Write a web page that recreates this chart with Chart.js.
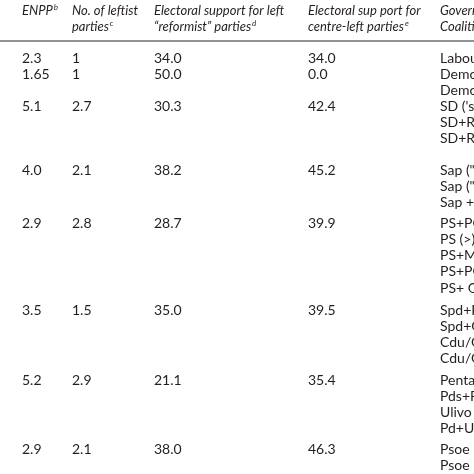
<!DOCTYPE html>
<html>
<head>
<meta charset="utf-8">
<script src="https://cdn.jsdelivr.net/npm/chart.js@4"></script>
<style>
  html, body { margin: 0; padding: 0; background: #fff; overflow: hidden; }
</style>
</head>
<body>
<canvas id="tbl" width="474" height="474"></canvas>
<script>
// Table values
const enpp = ['2.3', '1.65', '5.1', '4.0', '2.9', '3.5', '5.2', '2.9'];
const leftistParties = ['1', '1', '2.7', '2.1', '2.8', '1.5', '2.9', '2.1'];
const reformistSupport = ['34.0', '50.0', '30.3', '38.2', '28.7', '35.0', '21.1', '38.0'];
const centreLeftSupport = ['34.0', '0.0', '42.4', '45.2', '39.9', '39.5', '35.4', '46.3'];
const governments = [
  ['Labour'],
  ['Democrats', 'Democrats'],
  ["SD ('single')", 'SD+RV', 'SD+RV'],
  ['Sap ("single")', 'Sap ("single")', 'Sap + V'],
  ['PS+PCF', 'PS (>)', 'PS+MRG', 'PS+PCF', 'PS+ Greens'],
  ['Spd+Fdp', 'Spd+Greens', 'Cdu/Csu', 'Cdu/Csu'],
  ['Pentapartito', 'Pds+Ppi', 'Ulivo', 'Pd+Udc'],
  ['Psoe', 'Psoe']
];

// layout: row baselines and column left edges (px on the hidden linear scales)
const rowY = [58, 74, 106, 170, 223, 310, 380, 449];
const lineGap = 16.3;
const colX = [22, 72, 154, 308, 440];

const numCols = [enpp, leftistParties, reformistSupport, centreLeftSupport];
const datasets = numCols.map((col, c) => ({
  data: col.map((v, r) => ({ x: colX[c], y: rowY[r], label: v })),
  pointRadius: 0
}));
const govtPoints = [];
governments.forEach((lines, r) => {
  lines.forEach((t, i) => govtPoints.push({ x: colX[4], y: rowY[r] + i * lineGap, label: t }));
});
datasets.push({ data: govtPoints, pointRadius: 0 });

const textFont = '14px "Lato", "DejaVu Sans", sans-serif';
const headFont = 'italic 13px "Lato", "DejaVu Sans", sans-serif';

const headers = [
  { x: -14, lines: ['', 'y'], sup: 'a' },
  { x: colX[0], lines: ['ENPP'], sup: 'b' },
  { x: colX[1], lines: ['No. of leftist', 'parties'], sup: 'c' },
  { x: colX[2], lines: ['Electoral support for left', '\u201creformist\u201d parties'], sup: 'd' },
  { x: colX[3], lines: ['Electoral sup port for', 'centre-left parties'], sup: 'e' },
  { x: colX[4], lines: ['Government', 'Coalitions'], sup: '' }
];

const tablePlugin = {
  id: 'tablePlugin',
  afterDraw(chart) {
    const ctx = chart.ctx;
    const xs = chart.scales.x, ys = chart.scales.y;
    ctx.save();
    ctx.textBaseline = 'middle';
    ctx.fillStyle = '#231f20';
    // headers
    headers.forEach(h => {
      h.lines.forEach((t, i) => {
        const px = xs.getPixelForValue(h.x);
        const py = ys.getPixelForValue(11 + i * 16);
        ctx.font = headFont;
        ctx.fillText(t, px, py);
        if (h.sup && i === h.lines.length - 1) {
          const w = ctx.measureText(t).width;
          ctx.font = 'italic 8px "Lato", sans-serif';
          ctx.fillText(h.sup, px + w + 1, py - 4);
        }
      });
    });
    // header rule
    ctx.strokeStyle = '#6d6e71';
    ctx.lineWidth = 1.5;
    ctx.beginPath();
    ctx.moveTo(xs.getPixelForValue(0), ys.getPixelForValue(41));
    ctx.lineTo(xs.getPixelForValue(474), ys.getPixelForValue(41));
    ctx.stroke();
    // cells
    ctx.font = textFont;
    chart.data.datasets.forEach((ds, i) => {
      chart.getDatasetMeta(i).data.forEach((pt, j) => {
        ctx.fillText(ds.data[j].label, pt.x, pt.y);
      });
    });
    ctx.restore();
  }
};

new Chart(document.getElementById('tbl').getContext('2d'), {
  type: 'scatter',
  data: { datasets: datasets },
  options: {
    responsive: false,
    animation: false,
    layout: { padding: 0 },
    plugins: { legend: { display: false }, tooltip: { enabled: false } },
    scales: {
      x: { type: 'linear', min: 0, max: 474, display: false },
      y: { type: 'linear', min: 0, max: 474, reverse: true, display: false }
    }
  },
  plugins: [tablePlugin]
});
</script>
</body>
</html>
